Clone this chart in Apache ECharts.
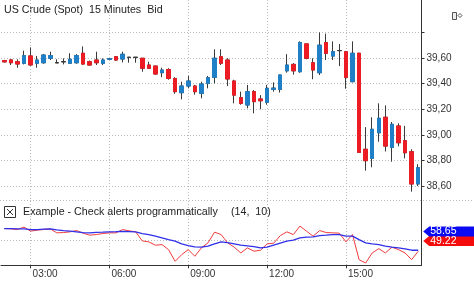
<!DOCTYPE html>
<html><head><meta charset="utf-8">
<script src="https://cdn.jsdelivr.net/npm/echarts@6/dist/echarts.min.js"></script>
<style>html,body{margin:0;padding:0;background:#fff}#c{width:474px;height:281px}</style>
</head><body><div id="c"></div>
<script>
// 15-minute categories 02:00 .. 17:45
const times = [];
for (let h = 2; h < 18; h++) for (let m = 0; m < 60; m += 15) times.push(String(h).padStart(2,'0') + ':' + String(m).padStart(2,'0'));
const tickLabels = ['03:00','06:00','09:00','12:00','15:00'];
const priceTicks = [38.6, 38.8, 39.0, 39.2, 39.4, 39.6, 39.8];
const priceLabels = [38.6, 38.8, 39.0, 39.2, 39.4, 39.6];
const oscTicks = [50];
const tagValues = [58.65, 49.22];

const open  = [39.58,39.585,39.571,39.559,39.616,39.559,39.563,39.598,39.563,39.571,39.559,39.563,39.637,39.571,39.584,39.559,39.59,39.61,39.592,39.605,39.605,39.598,39.545,39.537,39.485,39.51,39.44,39.329,39.381,39.381,39.324,39.402,39.449,39.61,39.584,39.42,39.29,39.233,39.337,39.28,39.254,39.355,39.355,39.5,39.55,39.493,39.71,39.563,39.485,39.72,39.615,39.658,39.649,39.415,39.637,38.887,38.816,39.016,39.137,38.902,39.069,38.954,38.868,38.616];
const close = [39.57,39.563,39.553,39.618,39.546,39.584,39.623,39.618,39.563,39.571,39.59,39.618,39.553,39.545,39.563,39.584,39.594,39.584,39.629,39.605,39.605,39.52,39.52,39.475,39.506,39.44,39.337,39.381,39.42,39.337,39.397,39.446,39.598,39.559,39.436,39.31,39.246,39.337,39.259,39.266,39.363,39.365,39.467,39.545,39.5,39.72,39.598,39.506,39.7,39.637,39.649,39.658,39.449,39.637,38.863,38.798,39.043,39.129,38.912,39.082,38.938,38.86,38.616,38.743];
const low   = [39.565,39.545,39.524,39.55,39.54,39.524,39.555,39.584,39.563,39.55,39.555,39.555,39.545,39.54,39.545,39.545,39.585,39.58,39.566,39.563,39.563,39.493,39.515,39.47,39.45,39.43,39.32,39.277,39.363,39.314,39.285,39.363,39.402,39.545,39.381,39.246,39.235,39.207,39.168,39.2,39.235,39.337,39.33,39.485,39.47,39.485,39.59,39.434,39.467,39.584,39.584,39.537,39.36,39.41,38.86,38.72,38.746,38.946,38.87,38.79,38.91,38.816,38.556,38.6];
const high  = [39.585,39.59,39.59,39.657,39.683,39.616,39.63,39.649,39.59,39.597,39.637,39.63,39.69,39.58,39.649,39.597,39.6,39.615,39.649,39.605,39.605,39.6,39.571,39.54,39.524,39.52,39.45,39.415,39.46,39.39,39.415,39.46,39.668,39.668,39.598,39.43,39.337,39.39,39.35,39.31,39.39,39.41,39.47,39.63,39.56,39.73,39.71,39.598,39.8,39.79,39.73,39.71,39.655,39.73,39.64,39.06,39.137,39.246,39.23,39.1,39.09,39.07,38.887,38.77];

const redLine  = [61.6,61.3,60.6,63,59,60,60.6,61.3,57.3,57.6,58.3,59.6,57,55,55.6,56.6,57.3,57.3,60.6,59.3,58.3,49.3,48.3,45,45.6,40.6,29,35.6,40.6,34,42.3,47.3,58,55.6,47.3,43,37.3,42.3,39,40,46.3,47,54.5,58.3,55.6,64,59,54,59.6,57.6,57.3,57,48.3,55.6,30.6,27.3,37.3,41.6,37.3,43,40.6,37.3,30.6,39];
const blueLine = [61.6,61.6,61.3,61.3,60.6,60.6,61,61.3,60.3,59.6,59,58.3,57.6,57.3,57.8,58,58.3,58.5,58.8,58.6,58.2,56.6,55.6,54,52.3,50.6,49,46.3,44.6,43.3,43,44,46.3,48.3,47.6,46.3,45,44.3,43.6,42.3,43,45,47,49,50,52.3,53,53.3,54.6,55,55.6,55.6,54,54,50.6,47.3,46.3,45.6,44,43,42.3,41.3,40,40];

const BLUE = '#1f80c8', RED = '#ec1c24', DARK = '#333';
const dotted = { color: '#bbb', width: 1, type: [1, 2] };
const showTick = (idx, val) => tickLabels.includes(val);
const FONT = '"Liberation Sans", Arial, sans-serif';

const chart = echarts.init(document.getElementById('c'), null, { renderer: 'canvas' });
const tagPath = 'path://M0,5 L6,0 L51,0 L51,10 L6,10 Z';
function tag(value, color) {
  return {
    silent: true, animation: false,
    symbol: tagPath, symbolSize: [51, 10], symbolOffset: [30.5, 0],
    itemStyle: { color: color },
    label: { show: true, position: 'insideLeft', distance: 7, color: '#fff', fontSize: 10.5, fontFamily: FONT, formatter: () => value.toFixed(2) },
    data: [{ coord: [times[times.length - 1], value], value: value }]
  };
}

chart.setOption({
  animation: false,
  backgroundColor: '#fff',
  grid: [
    { left: 1, top: 0, width: 420.5, height: 201 },
    { left: 1, top: 201, width: 420.5, height: 64.3 }
  ],
  xAxis: [
    { type: 'category', gridIndex: 0, data: times, boundaryGap: true,
      axisLine: { show: false }, axisTick: { show: false }, axisLabel: { show: false },
      splitLine: { show: true, interval: showTick, alignWithLabel: true, lineStyle: dotted } },
    { type: 'category', gridIndex: 1, data: times, boundaryGap: true,
      axisLine: { show: true, lineStyle: { color: DARK, width: 1 } },
      axisTick: { show: true, alignWithLabel: true, interval: showTick, length: 3, lineStyle: { color: DARK } },
      axisLabel: { show: true, interval: showTick, align: 'left', margin: 4, padding: [0, 0, 0, 2], fontSize: 10, fontFamily: FONT, color: DARK },
      splitLine: { show: true, interval: showTick, alignWithLabel: true, lineStyle: dotted } }
  ],
  yAxis: [
    { type: 'value', gridIndex: 0, position: 'right', min: 38.483, max: 40.053, scale: true,
      axisLine: { show: true, lineStyle: { color: DARK, width: 1 } },
      axisTick: { show: true, length: 3, customValues: priceTicks, lineStyle: { color: DARK } },
      axisLabel: { show: true, customValues: priceLabels, margin: 5, fontSize: 10, fontFamily: FONT, color: DARK,
        formatter: v => v.toFixed(2).replace('.', ',') },
      splitLine: { show: true, lineStyle: dotted } },
    { type: 'value', gridIndex: 1, position: 'right', min: 25, max: 89,
      axisLine: { show: true, lineStyle: { color: DARK, width: 1 } },
      axisTick: { show: false, customValues: oscTicks },
      axisLabel: { show: false },
      splitLine: { show: true, lineStyle: dotted } }
  ],
  series: [
    { type: 'candlestick', name: 'wick', xAxisIndex: 0, yAxisIndex: 0, barWidth: 4,
      data: open.map((o, i) => [o, close[i], low[i], high[i]]),
      itemStyle: { color: DARK, color0: DARK, borderColor: '#3a3a3a', borderColor0: '#3a3a3a', borderColorDoji: '#3a3a3a', borderWidth: 1 } },
    { type: 'candlestick', name: 'body', xAxisIndex: 0, yAxisIndex: 0, barWidth: 4,
      data: open.map((o, i) => [o, close[i], Math.min(o, close[i]), Math.max(o, close[i])]),
      itemStyle: { color: BLUE, color0: RED, borderColor: BLUE, borderColor0: RED, borderColorDoji: '#3a3a3a', borderWidth: 1 } },
    { type: 'line', name: 'osc', xAxisIndex: 1, yAxisIndex: 1, data: redLine, showSymbol: false, symbol: 'none',
      lineStyle: { color: '#f03c3c', width: 1 }, markPoint: tag(tagValues[1], '#f40c0c') },
    { type: 'line', name: 'avg', xAxisIndex: 1, yAxisIndex: 1, data: blueLine, showSymbol: false, symbol: 'none',
      lineStyle: { color: '#3030e8', width: 1.3 }, markPoint: tag(tagValues[0], '#0b0bf2') }
  ],
  graphic: [
    { type: 'text', x: 4, y: 10.5, style: { text: 'US Crude (Spot)  15 Minutes  Bid', font: '10.7px ' + FONT, fill: '#222', verticalAlign: 'middle', textVerticalAlign: 'middle' } },
    { type: 'line', shape: { x1: 0, y1: 200.5, x2: 474, y2: 200.5 }, style: { stroke: '#bbb', lineDash: [1, 2], lineWidth: 1 } },
    { type: 'rect', shape: { x: 4.5, y: 206.5, width: 11, height: 11 }, style: { fill: 'none', stroke: '#333', lineWidth: 1 } },
    { type: 'line', shape: { x1: 7, y1: 209, x2: 13, y2: 215 }, style: { stroke: '#333', lineWidth: 1 } },
    { type: 'line', shape: { x1: 13, y1: 209, x2: 7, y2: 215 }, style: { stroke: '#333', lineWidth: 1 } },
    { type: 'text', x: 23, y: 212, style: { text: 'Example - Check alerts programmatically', font: '10.7px ' + FONT, fill: '#222', verticalAlign: 'middle', textVerticalAlign: 'middle' } },
    { type: 'text', x: 231, y: 212, style: { text: '(14,  10)', font: '10.7px ' + FONT, fill: '#222', verticalAlign: 'middle', textVerticalAlign: 'middle' } },
    { type: 'rect', shape: { x: 452.5, y: 12.5, width: 4, height: 7 }, style: { fill: '#eee', stroke: '#555', lineWidth: 1 } },
    { type: 'polygon', shape: { points: [[458, 15.5], [460, 13.5], [462, 15.5], [460, 17.5]] }, style: { fill: 'none', stroke: '#555', lineWidth: 1 } }
  ]
});
</script>
</body></html>
